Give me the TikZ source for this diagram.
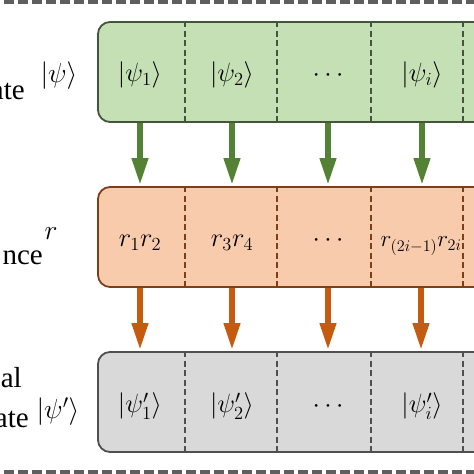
\RequirePackage{fix-cm}
\documentclass[tikz,border=0pt]{standalone}
\usepackage{fontspec}
\setmainfont{Liberation Serif}
\usetikzlibrary{arrows.meta}
\definecolor{psifill}{HTML}{C5E0B4}
\definecolor{psiline}{HTML}{44553B}
\definecolor{psiarrow}{HTML}{548235}
\definecolor{rfill}{HTML}{F8CBAD}
\definecolor{rline}{HTML}{7E3F18}
\definecolor{rarrow}{HTML}{C55A11}
\definecolor{outfill}{HTML}{D9D9D9}
\definecolor{outline}{HTML}{4F4F4F}
\definecolor{frame}{HTML}{5F5F5F}
\begin{document}
\begin{tikzpicture}[x=1pt,y=1pt,line join=round,
    row/.style={draw,rounded corners=12pt,line width=1.8pt,minimum width=462pt,minimum height=100pt,inner sep=0pt},
    cell/.style={font=\fontsize{24}{28}\selectfont,inner sep=0pt,anchor=base,scale=1.1},
    rcell/.style={cell,scale=1},
    lbl/.style={font=\fontsize{29}{33}\selectfont,inner sep=0pt,anchor=base east},
    side/.style={font=\fontsize{24}{28}\selectfont,inner sep=0pt,scale=1.15},
    sep/.style={dash pattern=on 6pt off 3.5pt,line width=1.5pt},
    flow/.style={line width=6.5pt,-{Triangle[width=15pt,length=28pt]}}]
  \def \xmin{0};
  \def \xmax{474};
  \def \ymin{0};
  \def \ymax{474};
  \useasboundingbox (\xmin,\ymin) rectangle (\xmax,\ymax);
  \clip (\xmin,\ymin) rectangle (\xmax,\ymax);
  % frame
  \draw[frame,line width=4pt,dash pattern=on 10pt off 4pt] (-10,472) -- (484,472) (-10,2) -- (484,2);
  % rows
  \node[row,fill=psifill,draw=psiline] (psirow) at (329,402) {};
  \node[row,fill=rfill,draw=rline] (rrow) at (329,237) {};
  \node[row,fill=outfill,draw=outline] (outrow) at (329,72) {};
  \foreach \x [count=\i] in {185,277,371,463} {
    \coordinate (d\i) at (\x,0);
    \draw[sep,psiline] (d\i |- psirow.north) -- (d\i |- psirow.south);
    \draw[sep,rline] (d\i |- rrow.north) -- (d\i |- rrow.south);
    \draw[sep,outline] (d\i |- outrow.north) -- (d\i |- outrow.south);
  }
  % cells
  \node[cell] (p1) at (140,392) {$|\psi_1\rangle$};
  \node[cell] (p2) at (232,392) {$|\psi_2\rangle$};
  \node[cell] (p3) at (328,392) {$\cdots$};
  \node[cell] (p4) at (422,392) {$|\psi_i\rangle$};
  \node[rcell] (r1) at (140,227) {$r_1r_2$};
  \node[rcell] (r2) at (232,227) {$r_3r_4$};
  \node[rcell] (r3) at (328,227) {$\cdots$};
  \node[rcell,font=\fontsize{21}{25}\selectfont] (r4) at (421,227) {$r_{(2i-1)}r_{2i}$};
  \node[cell] (q1) at (140,61) {$|\psi'_1\rangle$};
  \node[cell] (q2) at (232,61) {$|\psi'_2\rangle$};
  \node[cell] (q3) at (328,61) {$\cdots$};
  \node[cell] (q4) at (422,61) {$|\psi'_i\rangle$};
  % arrows
  \foreach \i in {1,...,4} {
    \draw[flow,psiarrow] (p\i |- psirow.south) -- (p\i |- rrow.north);
    \draw[flow,rarrow] (r\i |- rrow.south) -- (r\i |- outrow.north);
  }
  % labels
  \node[lbl] (lbla) at (25,374) {ate};
  \node[side] (psi) at (59,398) {$|\psi\rangle$};
  \node[lbl] (lblb) at (43,209) {nce};
  \node[side] (rr) at (51,240) {$r$};
  \node[lbl] (lblc) at (22,86) {al};
  \node[lbl] (lbld) at (29,46) {ate};
  \node[side] (psiout) at (58,62) {$|\psi'\rangle$};
\end{tikzpicture}
\end{document}
